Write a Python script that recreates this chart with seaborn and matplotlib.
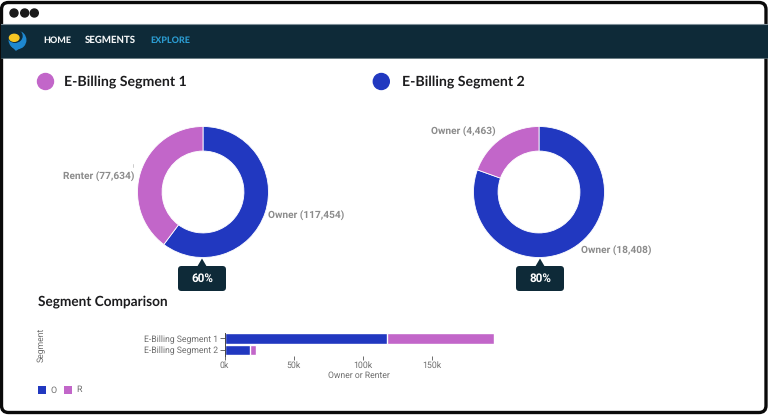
import matplotlib
matplotlib.use("Agg")
import matplotlib.pyplot as plt
from matplotlib.patches import Circle, Ellipse, FancyBboxPatch, Polygon, Rectangle
import pandas as pd
import seaborn as sns

# data
segments = ["E-Billing Segment 1", "E-Billing Segment 2"]
owner = [117454, 18408]
renter = [77634, 4463]
share_labels = ["60%", "80%"]
nav_items = ["HOME", "SEGMENTS", "EXPLORE"]
x_ticks = [0, 50000, 100000, 150000]
x_tick_labels = ["0k", "50k", "100k", "150k"]

BLUE = "#2138c0"
PURPLE = "#c266c9"
DARK = "#0e2a38"
W, H = 768, 415

sns.set_theme(style="white")
plt.rcParams["font.family"] = ["Roboto", "DejaVu Sans"]
plt.rcParams["text.hinting"] = "no_hinting"

fig = plt.figure(figsize=(W / 100, H / 100), dpi=100)
fig.patch.set_facecolor("white")


def px_axes(left, top, width, height):
    # axes placed in pixel coords, y measured from the top
    return fig.add_axes([left / W, 1 - (top + height) / H, width / W, height / H])


# page chrome
bg = px_axes(0, 0, W, H)
bg.set_xlim(0, W)
bg.set_ylim(H, 0)
bg.axis("off")
bg.add_patch(FancyBboxPatch((1.5, 2.5), 764.5, 410, boxstyle="round,pad=0,rounding_size=7",
                            fc="white", ec="#0a0a0a", lw=2.4))
for cx in [14, 24.7, 34.3]:
    bg.add_patch(Ellipse((cx, 13), 8, 8, color="#1a1a1a"))
bg.add_patch(Rectangle((0.5, 23.7), 767.5, 34.6, fc=DARK, ec="none"))
bg.plot([0.5, 768], [23.7, 23.7], color="#7f8f98", lw=0.8)
bg.plot([0.5, 768], [58.3, 58.3], color="#51666f", lw=0.6)

# logo
bg.add_patch(Ellipse((17.5, 40), 16.5, 17, color="#1e88d0"))
bg.add_patch(Polygon([[12, 46], [22, 46], [16, 50]], color="#1e88d0"))
bg.add_patch(Ellipse((15, 36), 14, 12.5, color=DARK))
bg.add_patch(Ellipse((14.2, 37.8), 9.5, 7, color="#f6c623"))

nav_x = [43, 85, 150]
nav_colors = ["#f2f5f6", "#f2f5f6", "#2b9bd0"]
nav_sizes = [6.5, 6.9, 6.5]
for name, nx, c, fs in zip(nav_items, nav_x, nav_colors, nav_sizes):
    bg.text(nx, 40.5, name, color=c, fontsize=fs, fontweight="black",
            family="Lato", va="center", ha="left")

# segment headers
circle_x = [45.5, 381.3]
header_x = [64, 402]
header_colors = [PURPLE, BLUE]
for name, ccx, hx, c in zip(segments, circle_x, header_x, header_colors):
    bg.add_patch(Circle((ccx, 81.5), 8, color=c))
    bg.text(hx, 82, name, color="#1c1c1e", fontsize=10.2, fontweight="bold",
            family="Lato", va="center", ha="left")

bg.text(38, 301.5, "Segment Comparison", color="#1c1c1e", fontsize=9.8, fontweight="bold",
        family="Lato", va="center", ha="left")

# donuts
centers = [203, 539]
R = 65.5
for i, cx in enumerate(centers):
    ax = px_axes(cx - R, 192 - R, 2 * R, 2 * R)
    ax.pie([owner[i], renter[i]], colors=[BLUE, PURPLE], startangle=90, counterclock=False,
           radius=1.0, wedgeprops={"width": 0.375, "edgecolor": "white", "linewidth": 0.6})
    ax.set_xlim(-1, 1)
    ax.set_ylim(-1, 1)
    ax.patch.set_alpha(0)

label_style = {"color": "#8c8c8c", "fontsize": 7.25, "fontweight": "bold", "va": "center"}
bg.text(134, 176.5, f"Renter ({renter[0]:,})", ha="right", **label_style)
bg.text(268, 215.5, f"Owner ({owner[0]:,})", ha="left", **label_style)
bg.text(496, 132, f"Owner ({renter[1]:,})", ha="right", **label_style)
bg.text(581, 250.5, f"Owner ({owner[1]:,})", ha="left", **label_style)
bg.plot([133, 133], [164, 167], color="#c4c4c4", lw=0.6)

# callouts
callout_x = [202, 540]
for cx, txt in zip(callout_x, share_labels):
    bg.add_patch(FancyBboxPatch((cx - 24, 266), 48, 25, boxstyle="round,pad=0,rounding_size=3.5",
                                fc=DARK, ec="none"))
    bg.add_patch(Polygon([[cx - 5, 267], [cx + 5, 267], [cx, 258.5]], fc=DARK, ec="none"))
    bg.text(cx, 278.5, txt, color="white", fontsize=8.4, fontweight="bold", ha="center", va="center")

# stacked bar
df = pd.DataFrame({"segment": segments, "owner": owner, "renter": renter})
df["total"] = df["owner"] + df["renter"]
bar_ax = px_axes(224.5, 332.5, 269.5, 23.5)
bar_ax.patch.set_alpha(0)
sns.barplot(data=df, x="total", y="segment", color=PURPLE, saturation=1, width=0.9, ax=bar_ax)
sns.barplot(data=df, x="owner", y="segment", color=BLUE, saturation=1, width=0.9, ax=bar_ax)
bar_ax.set_xlim(0, df["total"].max())
bar_ax.set_xticks(x_ticks)
bar_ax.set_xticklabels(x_tick_labels)
bar_ax.tick_params(axis="x", length=3.2, width=0.6, color="#555555", labelsize=6.3,
                   labelcolor="#6e6e6e", pad=0.8, bottom=True)
bar_ax.tick_params(axis="y", length=3.6, width=0.6, color="#555555", labelsize=6.25,
                   labelcolor="#6e6e6e", pad=1.2, left=True)
sns.despine(ax=bar_ax, top=True, right=True, bottom=True)
bar_ax.spines["left"].set_color("#444444")
bar_ax.spines["left"].set_linewidth(0.7)
bar_ax.set_xlabel("Owner or Renter", fontsize=6.2, color="#6e6e6e")
bar_ax.xaxis.set_label_coords(134.5 / 269.5, -0.63)
bar_ax.set_ylabel("Segment", fontsize=6.2, color="#6e6e6e")
bar_ax.yaxis.set_label_coords((46 - 224.5) / 269.5, 0.47)

# legend
for lx, name, c in zip([38, 64], ["O", "R"], [BLUE, PURPLE]):
    bg.add_patch(Rectangle((lx, 385.7), 8, 8, fc=c, ec="none"))
    bg.text(lx + 12, 390, name, color="#6e6e6e", fontsize=6.4, va="center", ha="left")

fig.savefig("out.png", dpi=100)
